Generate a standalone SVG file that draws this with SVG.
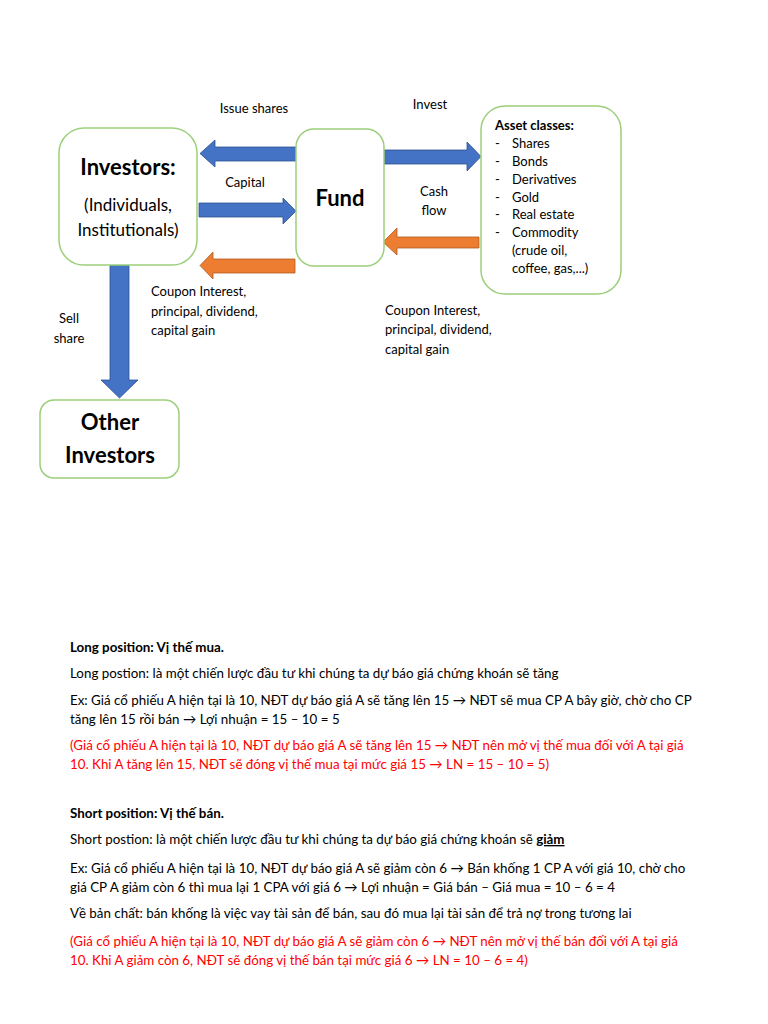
<svg xmlns="http://www.w3.org/2000/svg" width="768" height="1024" viewBox="0 0 768 1024">
<style>
text{font-family:Lato,"Noto Sans",sans-serif;fill:#000}
.box{fill:#fff;stroke:#9ccf7a;stroke-width:1.5}
.big{font-size:22px;font-weight:bold}
.mid{font-size:17px}
.lbl{font-size:13px}
.b{font-weight:bold}
.body{font-size:13.35px}
.red{fill:#ff0000}
.blue{fill:#4472c4;stroke:#2f528f;stroke-width:0.8}
.orange{fill:#ed7d31;stroke:#ae5a21;stroke-width:0.8}
</style>
<rect width="768" height="1024" fill="#fff"/>
<g id="connectors">
<polygon class="blue" points="296,147 215,147 215,140 200,153.5 215,167 215,161 296,161"/>
<polygon class="blue" points="199,203 283,203 283,198 296,211 283,224 283,217 199,217"/>
<polygon class="orange" points="295,259 213,259 213,252 200,265.5 213,279 213,273 295,273"/>
<polygon class="blue" points="384,150 467,150 467,142 481,156.5 467,171 467,164 384,164"/>
<polygon class="orange" points="479,237 397,237 397,228 383,242 397,255 397,248 479,248"/>
<polygon class="blue" points="110,265 129,265 129,380 138,380 119.5,398 101,380 110,380"/>
<text class="lbl" x="254" y="113" text-anchor="middle">Issue shares</text>
<text class="lbl" x="430" y="109" text-anchor="middle">Invest</text>
<text class="lbl" x="245" y="187" text-anchor="middle">Capital</text>
<text class="lbl" x="434" y="196" text-anchor="middle">Cash</text>
<text class="lbl" x="434" y="215" text-anchor="middle">flow</text>
<text class="lbl" x="151" y="296">Coupon Interest,</text>
<text class="lbl" x="151" y="316">principal, dividend,</text>
<text class="lbl" x="151" y="335">capital gain</text>
<text class="lbl" x="385" y="315">Coupon Interest,</text>
<text class="lbl" x="385" y="334">principal, dividend,</text>
<text class="lbl" x="385" y="354">capital gain</text>
<text class="lbl" x="69" y="323" text-anchor="middle">Sell</text>
<text class="lbl" x="69" y="343" text-anchor="middle">share</text>
</g>
<g id="investors">
<rect class="box" x="59" y="128" width="138" height="137" rx="25"/>
<text class="big" x="128" y="175" text-anchor="middle">Investors:</text>
<text class="mid" x="128" y="211" text-anchor="middle">(Individuals,</text>
<text class="mid" x="128" y="236" text-anchor="middle">Institutionals)</text>
</g>
<g id="fund">
<rect class="box" x="296" y="129" width="88" height="137" rx="18"/>
<text class="big" x="340" y="206" text-anchor="middle">Fund</text>
</g>
<g id="assets">
<rect class="box" x="481" y="106" width="140" height="188" rx="24"/>
<text class="lbl b" x="495" y="130">Asset classes:</text>
<g class="lbl">
<text x="495" y="148">-</text><text x="512" y="148">Shares</text>
<text x="495" y="166">-</text><text x="512" y="166">Bonds</text>
<text x="495" y="184">-</text><text x="512" y="184">Derivatives</text>
<text x="495" y="202">-</text><text x="512" y="202">Gold</text>
<text x="495" y="219">-</text><text x="512" y="219">Real estate</text>
<text x="495" y="237">-</text><text x="512" y="237">Commodity</text>
<text x="512" y="255">(crude oil,</text>
<text x="512" y="273">coffee, gas,...)</text>
</g>
</g>
<g id="other-investors">
<rect class="box" x="40" y="400" width="139" height="78" rx="14"/>
<text class="big" x="110" y="430" text-anchor="middle">Other</text>
<text class="big" x="110" y="463" text-anchor="middle">Investors</text>
</g>
<g id="notes" class="body">
<text class="b" x="70" y="652">Long position: Vị thế mua.</text>
<text x="70" y="678">Long postion: là một chiến lược đầu tư khi chúng ta dự báo giá chứng khoán sẽ tăng</text>
<text x="70" y="705">Ex: Giá cổ phiếu A hiện tại là 10, NĐT dự báo giá A sẽ tăng lên 15 → NĐT sẽ mua CP A bây giờ, chờ cho CP</text>
<text x="70" y="724">tăng lên 15 rồi bán → Lợi nhuận = 15 – 10 = 5</text>
<text class="red" x="70" y="750">(Giá cổ phiếu A hiện tại là 10, NĐT dự báo giá A sẽ tăng lên 15 → NĐT nên mở vị thế mua đối với A tại giá</text>
<text class="red" x="70" y="769">10. Khi A tăng lên 15, NĐT sẽ đóng vị thế mua tại mức giá 15 → LN = 15 – 10 = 5)</text>
<text class="b" x="70" y="818">Short position: Vị thế bán.</text>
<text x="70" y="844">Short postion: là một chiến lược đầu tư khi chúng ta dự báo giá chứng khoán sẽ <tspan font-weight="bold" text-decoration="underline">giảm</tspan></text>
<text x="70" y="873">Ex: Giá cổ phiếu A hiện tại là 10, NĐT dự báo giá A sẽ giảm còn 6 → Bán khống 1 CP A với giá 10, chờ cho</text>
<text x="70" y="892">giá CP A giảm còn 6 thì mua lại 1 CPA với giá 6 → Lợi nhuận = Giá bán – Giá mua = 10 – 6 = 4</text>
<text x="70" y="918">Về bản chất: bán khống là việc vay tài sản để bán, sau đó mua lại tài sản để trả nợ trong tương lai</text>
<text class="red" x="70" y="946">(Giá cổ phiếu A hiện tại là 10, NĐT dự báo giá A sẽ giảm còn 6 → NĐT nên mở vị thế bán đối với A tại giá</text>
<text class="red" x="70" y="965">10. Khi A giảm còn 6, NĐT sẽ đóng vị thế bán tại mức giá 6 → LN = 10 – 6 = 4)</text>
</g>
</svg>
